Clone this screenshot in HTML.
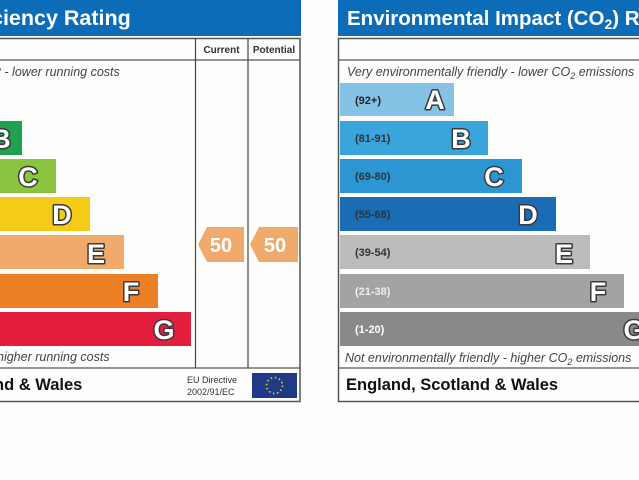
<!DOCTYPE html>
<html><head><style>html,body{margin:0;padding:0;background:#fdfdfb;}svg{display:block}</style></head><body>
<svg width="639" height="480" viewBox="0 0 639 480" xmlns="http://www.w3.org/2000/svg" font-family="Liberation Sans, Arial, sans-serif">
<rect width="639" height="480" fill="#fdfdfb"/>
<!-- LEFT PANEL -->
<rect x="0" y="0" width="301" height="36" fill="#0d6cb7"/>
<text x="-9" y="25" font-size="21.5" font-weight="bold" fill="#fff">ciency Rating</text>
<rect x="-2" y="38.5" width="302" height="363" fill="none" stroke="#555" stroke-width="1.5"/>
<line x1="0" y1="60" x2="300" y2="60" stroke="#555" stroke-width="1.2"/>
<line x1="195.5" y1="38" x2="195.5" y2="368" stroke="#444" stroke-width="1.2"/>
<line x1="248" y1="38" x2="248" y2="368" stroke="#444" stroke-width="1.2"/>
<line x1="0" y1="368" x2="300" y2="368" stroke="#555" stroke-width="1.2"/>
<text x="221.5" y="53" font-size="10" font-weight="bold" fill="#333" text-anchor="middle">Current</text>
<text x="274" y="53" font-size="10" font-weight="bold" fill="#333" text-anchor="middle">Potential</text>
<text x="-6" y="76" font-size="12.5" font-style="italic" fill="#444">2 - lower running costs</text>
<rect x="0" y="121" width="22" height="34" fill="#21a04f"/>
<rect x="0" y="159" width="56" height="34" fill="#8bc540"/>
<rect x="0" y="197" width="90" height="34" fill="#f4cc18"/>
<rect x="0" y="235" width="124" height="34" fill="#f0aa6b"/>
<rect x="0" y="274" width="158" height="34" fill="#ec8026"/>
<rect x="0" y="312" width="191" height="34" fill="#e21e3c"/>
<g stroke="#3a3a3a" stroke-width="3" stroke-linejoin="round" fill="#fff" font-weight="bold" font-size="27" text-anchor="middle">
<text x="1" y="148">B</text>
<text x="28" y="186">C</text>
<text x="62" y="224">D</text>
<text x="96" y="263">E</text>
<text x="131" y="301">F</text>
<text x="164" y="339">G</text>
</g>
<g fill="#fff" font-weight="bold" font-size="27" text-anchor="middle">
<text x="1" y="148">B</text>
<text x="28" y="186">C</text>
<text x="62" y="224">D</text>
<text x="96" y="263">E</text>
<text x="131" y="301">F</text>
<text x="164" y="339">G</text>
</g>
<text x="-3" y="361" font-size="12.5" font-style="italic" fill="#444">higher running costs</text>
<text x="-6" y="390" font-size="16.5" font-weight="bold" fill="#111">nd &amp; Wales</text>
<text x="187" y="383" font-size="9" fill="#333">EU Directive</text>
<text x="187" y="395" font-size="9" fill="#333">2002/91/EC</text>
<rect x="252" y="373" width="45" height="25" fill="#1f3b87"/>
<circle cx="274.5" cy="385.5" r="8" fill="none" stroke="#f3d21c" stroke-width="1.6" stroke-dasharray="1.5 2.7"/>
<polygon points="198,244.5 207,227 244,227 244,262 207,262" fill="#f0aa6b"/>
<text x="221" y="252" font-size="20" font-weight="bold" fill="#fff" text-anchor="middle">50</text>
<polygon points="250,244.5 259,227 298,227 298,262 259,262" fill="#f0aa6b"/>
<text x="275" y="252" font-size="20" font-weight="bold" fill="#fff" text-anchor="middle">50</text>
<!-- RIGHT PANEL -->
<rect x="338" y="0" width="301" height="36" fill="#0d6cb7"/>
<text x="347" y="25" font-size="20.5" font-weight="bold" fill="#fff">Environmental Impact (CO<tspan font-size="14" dy="4">2</tspan><tspan dy="-4">) R</tspan></text>
<rect x="338.5" y="38.5" width="310" height="363" fill="none" stroke="#555" stroke-width="1.5"/>
<line x1="338" y1="60" x2="639" y2="60" stroke="#555" stroke-width="1.2"/>
<line x1="338" y1="368" x2="639" y2="368" stroke="#555" stroke-width="1.2"/>
<text x="347" y="76" font-size="12.5" font-style="italic" fill="#444">Very environmentally friendly - lower CO<tspan font-size="9" dy="3">2</tspan><tspan dy="-3"> emissions</tspan></text>
<rect x="340" y="83" width="114" height="33" fill="#84c3e6"/>
<rect x="340" y="121" width="148" height="34" fill="#3aa4dc"/>
<rect x="340" y="159" width="182" height="34" fill="#2c96d3"/>
<rect x="340" y="197" width="216" height="34" fill="#1a6db5"/>
<rect x="340" y="235" width="250" height="34" fill="#bcbcbc"/>
<rect x="340" y="274" width="284" height="34" fill="#a3a3a3"/>
<rect x="340" y="312" width="310" height="34" fill="#898989"/>
<g font-size="11" font-weight="bold">
<text x="355" y="104" fill="#222">(92+)</text>
<text x="355" y="142" fill="#333">(81-91)</text>
<text x="355" y="180" fill="#333">(69-80)</text>
<text x="355" y="218" fill="#333">(55-68)</text>
<text x="355" y="256" fill="#333">(39-54)</text>
<text x="355" y="295" fill="#eee">(21-38)</text>
<text x="355" y="333" fill="#fff">(1-20)</text>
</g>
<g stroke="#3a3a3a" stroke-width="3" stroke-linejoin="round" fill="#fff" font-weight="bold" font-size="27" text-anchor="middle">
<text x="435" y="109">A</text>
<text x="461" y="148">B</text>
<text x="494" y="186">C</text>
<text x="528" y="224">D</text>
<text x="564" y="263">E</text>
<text x="598" y="301">F</text>
<text x="634" y="339">G</text>
</g>
<g fill="#fff" font-weight="bold" font-size="27" text-anchor="middle">
<text x="435" y="109">A</text>
<text x="461" y="148">B</text>
<text x="494" y="186">C</text>
<text x="528" y="224">D</text>
<text x="564" y="263">E</text>
<text x="598" y="301">F</text>
<text x="634" y="339">G</text>
</g>
<text x="345" y="362" font-size="12.5" font-style="italic" fill="#444">Not environmentally friendly - higher CO<tspan font-size="9" dy="3">2</tspan><tspan dy="-3"> emissions</tspan></text>
<text x="346" y="390" font-size="16.5" font-weight="bold" fill="#111">England, Scotland &amp; Wales</text>
</svg>
</body></html>
